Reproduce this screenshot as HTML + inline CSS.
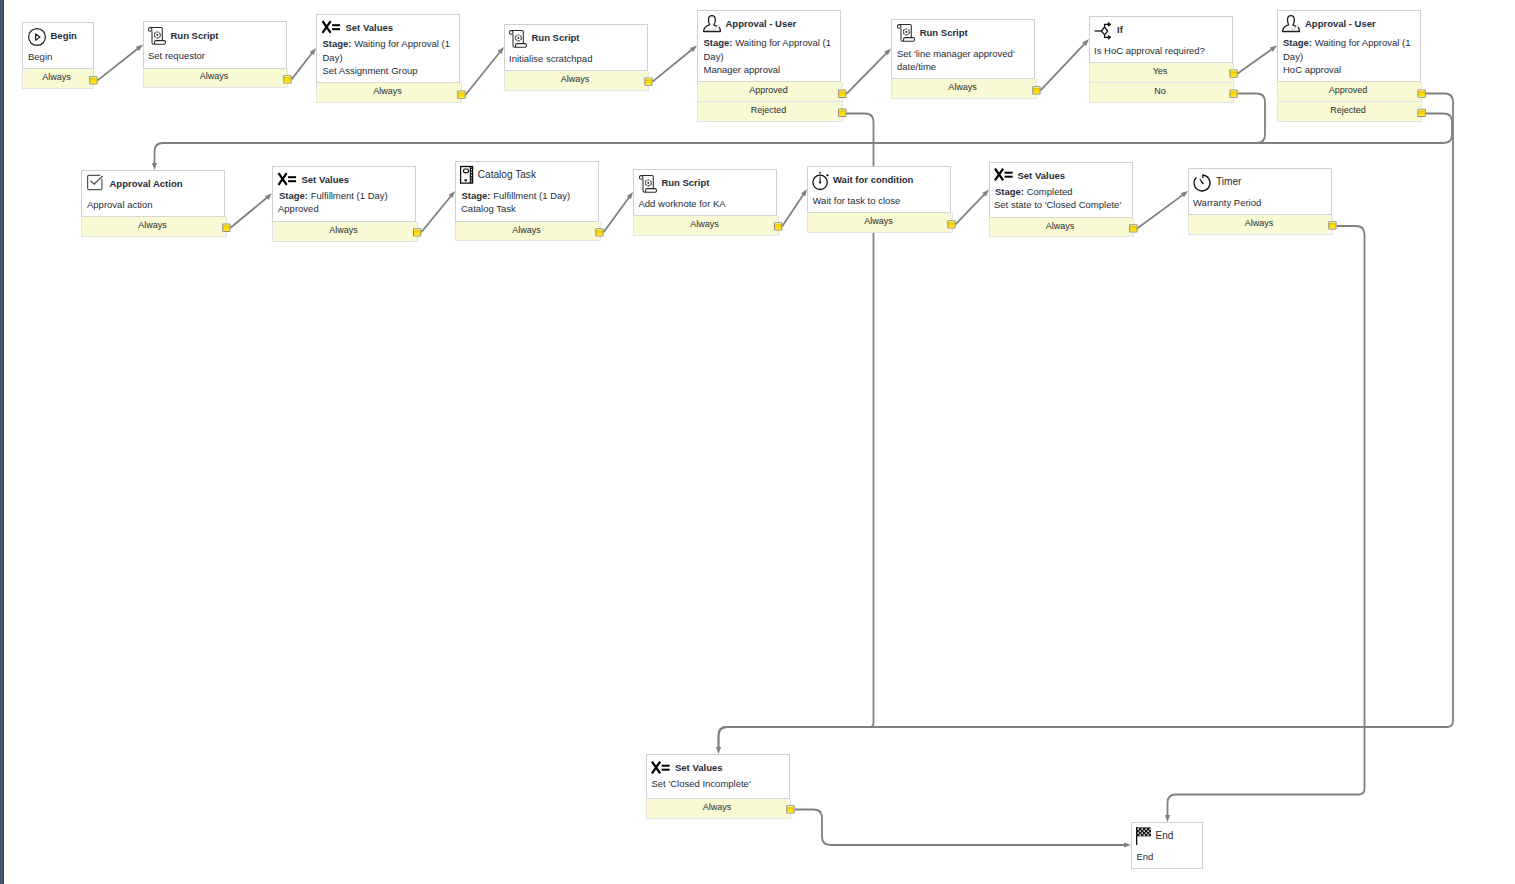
<!DOCTYPE html><html><head><meta charset="utf-8"><style>html,body{margin:0;padding:0;background:#fff;overflow:hidden}svg{display:block;position:absolute;left:0;top:0}text{font-family:"Liberation Sans",sans-serif}</style></head><body>
<svg width="1515" height="884" viewBox="0 0 1515 884">
<rect x="0" y="0" width="1515" height="884" fill="#fff"/>
<rect x="0" y="0" width="4" height="884" fill="#455369"/><rect x="3" y="0" width="1" height="884" fill="#37404f"/>
<path d="M97.6,80.4 L138.3,48.2" stroke="#808080" stroke-width="1.8" fill="none"/>
<path d="M143.0,44.5 L139.1,50.9 L135.9,46.8 Z" fill="#808080"/>
<path d="M291.6,79.4 L312.3,52.7" stroke="#808080" stroke-width="1.8" fill="none"/>
<path d="M316.0,48.0 L313.8,55.1 L309.6,51.9 Z" fill="#808080"/>
<path d="M465.6,94.7 L500.2,51.7" stroke="#808080" stroke-width="1.8" fill="none"/>
<path d="M504.0,47.0 L501.6,54.1 L497.6,50.8 Z" fill="#808080"/>
<path d="M652.6,81.6 L692.3,49.3" stroke="#808080" stroke-width="1.8" fill="none"/>
<path d="M697.0,45.5 L693.2,51.9 L689.9,47.9 Z" fill="#808080"/>
<path d="M846.4,93.8 L886.8,52.8" stroke="#808080" stroke-width="1.8" fill="none"/>
<path d="M891.0,48.5 L887.9,55.3 L884.2,51.7 Z" fill="#808080"/>
<path d="M1040.6,90.4 L1084.9,43.4" stroke="#808080" stroke-width="1.8" fill="none"/>
<path d="M1089.0,39.0 L1086.1,45.9 L1082.3,42.3 Z" fill="#808080"/>
<path d="M1237.7,73.6 L1272.1,49.0" stroke="#808080" stroke-width="1.8" fill="none"/>
<path d="M1277.0,45.5 L1272.8,51.7 L1269.8,47.5 Z" fill="#808080"/>
<path d="M230.5,227.8 L267.4,197.3" stroke="#808080" stroke-width="1.8" fill="none"/>
<path d="M272.0,193.5 L268.3,200.0 L264.9,196.0 Z" fill="#808080"/>
<path d="M421.3,232.3 L451.2,195.7" stroke="#808080" stroke-width="1.8" fill="none"/>
<path d="M455.0,191.0 L452.6,198.1 L448.6,194.8 Z" fill="#808080"/>
<path d="M603.6,232.3 L629.5,196.8" stroke="#808080" stroke-width="1.8" fill="none"/>
<path d="M633.0,192.0 L631.0,199.2 L626.8,196.1 Z" fill="#808080"/>
<path d="M782.3,226.3 L803.7,194.0" stroke="#808080" stroke-width="1.8" fill="none"/>
<path d="M807.0,189.0 L805.3,196.3 L801.0,193.4 Z" fill="#808080"/>
<path d="M955.6,224.3 L984.8,193.8" stroke="#808080" stroke-width="1.8" fill="none"/>
<path d="M989.0,189.5 L986.0,196.4 L982.3,192.8 Z" fill="#808080"/>
<path d="M1137.5,228.3 L1183.2,194.6" stroke="#808080" stroke-width="1.8" fill="none"/>
<path d="M1188.0,191.0 L1183.9,197.3 L1180.8,193.1 Z" fill="#808080"/>
<path d="M846,113.5 L865.0,113.5 Q873.5,113.5 873.5,122.0 L873.5,723.0 Q873.5,727 869.5,727.0 L727.0,727.0 Q718.5,727 718.5,735.5 L718.5,748" stroke="#808080" stroke-width="1.8" fill="none"/>
<path d="M718.5,754 L715.9,747 L721.1,747 Z" fill="#808080"/>
<path d="M1426,93.5 L1444.5,93.5 Q1453,93.5 1453.0,102.0 L1453.0,721.0 Q1453,727 1447.0,727.0 L727.0,727.0 Q718.5,727 718.5,735.5 L718.5,748" stroke="#808080" stroke-width="1.8" fill="none"/>
<path d="M1426,113.5 L1443.5,113.5 Q1452,113.5 1452.0,122.0 L1452.0,134.5 Q1452,143 1443.5,143.0 L163.0,143.0 Q154.5,143 154.5,151.5 L154.5,164" stroke="#808080" stroke-width="1.8" fill="none"/>
<path d="M154.5,170 L151.9,163 L157.1,163 Z" fill="#808080"/>
<path d="M1238,93.5 L1256.5,93.5 Q1265,93.5 1265.0,102.0 L1265.0,134.5 Q1265,143 1256.5,143.0 L1200,143" stroke="#808080" stroke-width="1.8" fill="none"/>
<path d="M1337,226 L1356.0,226.0 Q1364.5,226 1364.5,234.5 L1364.5,788.5 Q1364.5,794.5 1358.5,794.5 L1176.0,794.5 Q1167.5,794.5 1167.5,803.0 L1167.5,816" stroke="#808080" stroke-width="1.8" fill="none"/>
<path d="M1167.5,822 L1164.9,815 L1170.1,815 Z" fill="#808080"/>
<path d="M795,809.5 L813.5,809.5 Q822,809.5 822.0,818.0 L822.0,836.5 Q822,845 830.5,845.0 L1125,845" stroke="#808080" stroke-width="1.8" fill="none"/>
<path d="M1131,845 L1124,842.4 L1124,847.6 Z" fill="#808080"/>
<rect x="22" y="69" width="72" height="20" fill="#e1e4ea"/>
<rect x="23" y="69" width="70" height="19" fill="#f9f9d3"/>
<rect x="22" y="22" width="72" height="47" fill="#d0d0d0"/>
<rect x="23" y="23" width="70" height="45" fill="#fff"/>
<rect x="23" y="68" width="70" height="1" fill="#d6d6d6"/>
<g transform="translate(28,28)" fill="none" stroke="#222" stroke-width="1.25"><circle cx="9" cy="9" r="8.4"/><path d="M7.6,6 L7.6,12.2 L12,9.1 Z" stroke-linejoin="round"/></g>
<text x="50.5" y="39" font-size="9.5" font-weight="bold" fill="#262d38">Begin</text>
<text x="28" y="60" font-size="9.5" fill="#262d38">Begin</text>
<text x="56.5" y="79.5" font-size="9" text-anchor="middle" fill="#262d38">Always</text>
<rect x="143" y="69" width="145" height="19" fill="#e1e4ea"/>
<rect x="144" y="69" width="143" height="18" fill="#f9f9d3"/>
<rect x="143" y="21" width="144" height="48" fill="#d0d0d0"/>
<rect x="144" y="22" width="142" height="46" fill="#fff"/>
<rect x="144" y="68" width="142" height="1" fill="#d6d6d6"/>
<g transform="translate(145,24)" fill="none" stroke="#2a2a2a" stroke-width="1.05"><circle cx="5.2" cy="5.4" r="1.8"/><path d="M5.2,3.55 L16,3.55 Q17.3,3.55 17.3,4.85 L17.3,16.6"/><path d="M7,7.2 L7,18.8 Q7,20.3 8.5,20.3 L19.1,20.3 Q20.5,20.3 20.5,18.45 Q20.5,16.6 19.1,16.6 L10.8,16.6 Q9.6,16.6 9.6,17.9 L9.6,19 Q9.6,20.3 8.5,20.3"/><circle cx="12.35" cy="10.9" r="3" stroke-dasharray="2.4,0.75"/><circle cx="12.35" cy="10.9" r="0.95" fill="#1a1a1a" stroke="none"/></g>
<text x="170.5" y="39" font-size="9.5" font-weight="bold" fill="#262d38">Run Script</text>
<text x="148" y="59" font-size="9.5" fill="#262d38">Set requestor</text>
<text x="214.0" y="78.7" font-size="9" text-anchor="middle" fill="#262d38">Always</text>
<rect x="316" y="83" width="146" height="20" fill="#e1e4ea"/>
<rect x="317" y="83" width="144" height="19" fill="#f9f9d3"/>
<rect x="316" y="14" width="144" height="69" fill="#d0d0d0"/>
<rect x="317" y="15" width="142" height="67" fill="#fff"/>
<rect x="317" y="82" width="142" height="1" fill="#d6d6d6"/>
<g transform="translate(321,20)"><path d="M2.1,2.0 L9.0,11.9 M9.0,2.0 L2.1,11.9" stroke="#000" stroke-width="2.2" stroke-linecap="square" fill="none"/><rect x="11.1" y="4.2" width="8" height="2" fill="#000"/><rect x="11.1" y="8.2" width="8" height="2" fill="#000"/></g>
<text x="345.5" y="30.7" font-size="9.5" font-weight="bold" fill="#262d38">Set Values</text>
<text x="322.5" y="47" font-size="9.5" fill="#262d38"><tspan font-weight="bold">Stage:</tspan> Waiting for Approval (1</text>
<text x="322.5" y="61" font-size="9.5" fill="#262d38">Day)</text>
<text x="322.5" y="73.6" font-size="9.5" fill="#262d38">Set Assignment Group</text>
<text x="387.5" y="93.5" font-size="9" text-anchor="middle" fill="#262d38">Always</text>
<rect x="504" y="71" width="145" height="20" fill="#e1e4ea"/>
<rect x="505" y="71" width="143" height="19" fill="#f9f9d3"/>
<rect x="504" y="24" width="144" height="47" fill="#d0d0d0"/>
<rect x="505" y="25" width="142" height="45" fill="#fff"/>
<rect x="505" y="70" width="142" height="1" fill="#d6d6d6"/>
<g transform="translate(506,27)" fill="none" stroke="#2a2a2a" stroke-width="1.05"><circle cx="5.2" cy="5.4" r="1.8"/><path d="M5.2,3.55 L16,3.55 Q17.3,3.55 17.3,4.85 L17.3,16.6"/><path d="M7,7.2 L7,18.8 Q7,20.3 8.5,20.3 L19.1,20.3 Q20.5,20.3 20.5,18.45 Q20.5,16.6 19.1,16.6 L10.8,16.6 Q9.6,16.6 9.6,17.9 L9.6,19 Q9.6,20.3 8.5,20.3"/><circle cx="12.35" cy="10.9" r="3" stroke-dasharray="2.4,0.75"/><circle cx="12.35" cy="10.9" r="0.95" fill="#1a1a1a" stroke="none"/></g>
<text x="531.5" y="41.3" font-size="9.5" font-weight="bold" fill="#262d38">Run Script</text>
<text x="509" y="62" font-size="9.5" fill="#262d38">Initialise scratchpad</text>
<text x="575.0" y="81.5" font-size="9" text-anchor="middle" fill="#262d38">Always</text>
<rect x="697" y="82" width="146" height="40" fill="#e1e4ea"/>
<rect x="698" y="82" width="144" height="19" fill="#f9f9d3"/>
<rect x="698" y="102" width="144" height="19" fill="#f9f9d3"/>
<rect x="697" y="10" width="144" height="72" fill="#d0d0d0"/>
<rect x="698" y="11" width="142" height="70" fill="#fff"/>
<rect x="698" y="81" width="142" height="1" fill="#d6d6d6"/>
<g transform="translate(703,15)" fill="none" stroke="#1e1e1e" stroke-width="1.3" stroke-linejoin="round"><path d="M7,9.7 C5.9,8.6 5.5,7 5.5,5 C5.5,2.2 6.9,0.7 8.9,0.7 C10.9,0.7 12.3,2.2 12.3,5 C12.3,7 11.9,8.6 10.8,9.7 C11.6,10.4 12.8,10.8 13.9,11.3"/><path d="M16,11.8 C17,13 17.4,14.5 17.4,16.5 L0.6,16.5 C0.6,13 3,11 7,9.7"/><path d="M9,13.5 L11.5,15 L16,9.5" stroke="#bbb" stroke-width="0.8"/></g>
<text x="725.5" y="27.2" font-size="9.5" font-weight="bold" fill="#262d38">Approval - User</text>
<text x="703.5" y="46.3" font-size="9.5" fill="#262d38"><tspan font-weight="bold">Stage:</tspan> Waiting for Approval (1</text>
<text x="703.5" y="60.3" font-size="9.5" fill="#262d38">Day)</text>
<text x="703.5" y="72.8" font-size="9.5" fill="#262d38">Manager approval</text>
<text x="768.5" y="92.5" font-size="9" text-anchor="middle" fill="#262d38">Approved</text>
<text x="768.5" y="112.5" font-size="9" text-anchor="middle" fill="#262d38">Rejected</text>
<rect x="891" y="79" width="146" height="20" fill="#e1e4ea"/>
<rect x="892" y="79" width="144" height="19" fill="#f9f9d3"/>
<rect x="891" y="19" width="144" height="60" fill="#d0d0d0"/>
<rect x="892" y="20" width="142" height="58" fill="#fff"/>
<rect x="892" y="78" width="142" height="1" fill="#d6d6d6"/>
<g transform="translate(894,21)" fill="none" stroke="#2a2a2a" stroke-width="1.05"><circle cx="5.2" cy="5.4" r="1.8"/><path d="M5.2,3.55 L16,3.55 Q17.3,3.55 17.3,4.85 L17.3,16.6"/><path d="M7,7.2 L7,18.8 Q7,20.3 8.5,20.3 L19.1,20.3 Q20.5,20.3 20.5,18.45 Q20.5,16.6 19.1,16.6 L10.8,16.6 Q9.6,16.6 9.6,17.9 L9.6,19 Q9.6,20.3 8.5,20.3"/><circle cx="12.35" cy="10.9" r="3" stroke-dasharray="2.4,0.75"/><circle cx="12.35" cy="10.9" r="0.95" fill="#1a1a1a" stroke="none"/></g>
<text x="919.7" y="35.8" font-size="9.5" font-weight="bold" fill="#262d38">Run Script</text>
<text x="897" y="57" font-size="9.5" fill="#262d38">Set &#39;line manager approved&#39;</text>
<text x="897" y="70" font-size="9.5" fill="#262d38">date/time</text>
<text x="962.5" y="89.5" font-size="9" text-anchor="middle" fill="#262d38">Always</text>
<rect x="1089" y="63" width="145" height="40" fill="#e1e4ea"/>
<rect x="1090" y="63" width="143" height="19" fill="#f9f9d3"/>
<rect x="1090" y="83" width="143" height="19" fill="#f9f9d3"/>
<rect x="1089" y="16" width="144" height="47" fill="#d0d0d0"/>
<rect x="1090" y="17" width="142" height="45" fill="#fff"/>
<rect x="1090" y="62" width="142" height="1" fill="#d6d6d6"/>
<g transform="translate(1090,18)" fill="none" stroke="#111" stroke-width="1.3" stroke-linejoin="miter"><path d="M4.6,13 L11.4,13"/><path d="M11.4,13 L14.6,9.1 L17.6,13 L14.6,16.8 Z"/><path d="M14.6,9.1 L14.6,6.4 L19.5,6.4 M14.6,16.8 L14.6,19.3 L19.5,19.3"/><path d="M18.2,4.5 L21,6.4 L18.2,8.3 Z M18.2,17.4 L21,19.3 L18.2,21.2 Z" fill="#111" stroke-width="0.8"/></g>
<text x="1117" y="33" font-size="9.5" font-weight="bold" fill="#262d38">If</text>
<text x="1094" y="53.5" font-size="9.5" fill="#262d38">Is HoC approval required?</text>
<text x="1160.0" y="73.5" font-size="9" text-anchor="middle" fill="#262d38">Yes</text>
<text x="1160.0" y="93.5" font-size="9" text-anchor="middle" fill="#262d38">No</text>
<rect x="1277" y="82" width="145" height="40" fill="#e1e4ea"/>
<rect x="1278" y="82" width="143" height="19" fill="#f9f9d3"/>
<rect x="1278" y="102" width="143" height="19" fill="#f9f9d3"/>
<rect x="1277" y="10" width="144" height="72" fill="#d0d0d0"/>
<rect x="1278" y="11" width="142" height="70" fill="#fff"/>
<rect x="1278" y="81" width="142" height="1" fill="#d6d6d6"/>
<g transform="translate(1282,15)" fill="none" stroke="#1e1e1e" stroke-width="1.3" stroke-linejoin="round"><path d="M7,9.7 C5.9,8.6 5.5,7 5.5,5 C5.5,2.2 6.9,0.7 8.9,0.7 C10.9,0.7 12.3,2.2 12.3,5 C12.3,7 11.9,8.6 10.8,9.7 C11.6,10.4 12.8,10.8 13.9,11.3"/><path d="M16,11.8 C17,13 17.4,14.5 17.4,16.5 L0.6,16.5 C0.6,13 3,11 7,9.7"/><path d="M9,13.5 L11.5,15 L16,9.5" stroke="#bbb" stroke-width="0.8"/></g>
<text x="1305" y="27.2" font-size="9.5" font-weight="bold" fill="#262d38">Approval - User</text>
<text x="1283" y="46.3" font-size="9.5" fill="#262d38"><tspan font-weight="bold">Stage:</tspan> Waiting for Approval (1</text>
<text x="1283" y="60.3" font-size="9.5" fill="#262d38">Day)</text>
<text x="1283" y="72.8" font-size="9.5" fill="#262d38">HoC approval</text>
<text x="1348.0" y="92.5" font-size="9" text-anchor="middle" fill="#262d38">Approved</text>
<text x="1348.0" y="112.5" font-size="9" text-anchor="middle" fill="#262d38">Rejected</text>
<rect x="81" y="217" width="146" height="20" fill="#e1e4ea"/>
<rect x="82" y="217" width="144" height="19" fill="#f9f9d3"/>
<rect x="81" y="170" width="144" height="47" fill="#d0d0d0"/>
<rect x="82" y="171" width="142" height="45" fill="#fff"/>
<rect x="82" y="216" width="142" height="1" fill="#d6d6d6"/>
<g transform="translate(83,172)" fill="none" stroke="#555" stroke-width="1.2"><path d="M17.3,3.4 L5.7,3.4 Q4.6,3.4 4.6,4.5 L4.6,16.5 Q4.6,17.6 5.7,17.6 L17.8,17.6 Q18.9,17.6 18.9,16.5 L18.9,7"/><path d="M7.5,8.8 L11.1,12.1 L19.8,4.1" stroke-width="1.3"/></g>
<text x="109.5" y="186.8" font-size="9.5" font-weight="bold" fill="#262d38">Approval Action</text>
<text x="87" y="208" font-size="9.5" fill="#262d38">Approval action</text>
<text x="152.5" y="227.5" font-size="9" text-anchor="middle" fill="#262d38">Always</text>
<rect x="272" y="222" width="146" height="20" fill="#e1e4ea"/>
<rect x="273" y="222" width="144" height="19" fill="#f9f9d3"/>
<rect x="272" y="166" width="144" height="56" fill="#d0d0d0"/>
<rect x="273" y="167" width="142" height="54" fill="#fff"/>
<rect x="273" y="221" width="142" height="1" fill="#d6d6d6"/>
<g transform="translate(277,172)"><path d="M2.1,2.0 L9.0,11.9 M9.0,2.0 L2.1,11.9" stroke="#000" stroke-width="2.2" stroke-linecap="square" fill="none"/><rect x="11.1" y="4.2" width="8" height="2" fill="#000"/><rect x="11.1" y="8.2" width="8" height="2" fill="#000"/></g>
<text x="301.5" y="182.6" font-size="9.5" font-weight="bold" fill="#262d38">Set Values</text>
<text x="279" y="198.8" font-size="9.5" fill="#262d38"><tspan font-weight="bold">Stage:</tspan> Fulfillment (1 Day)</text>
<text x="278" y="212.2" font-size="9.5" fill="#262d38">Approved</text>
<text x="343.5" y="232.5" font-size="9" text-anchor="middle" fill="#262d38">Always</text>
<rect x="455" y="222" width="146" height="19" fill="#e1e4ea"/>
<rect x="456" y="222" width="144" height="18" fill="#f9f9d3"/>
<rect x="455" y="161" width="144" height="61" fill="#d0d0d0"/>
<rect x="456" y="162" width="142" height="59" fill="#fff"/>
<rect x="456" y="221" width="142" height="1" fill="#d6d6d6"/>
<g transform="translate(457,163)" fill="none" stroke="#111" stroke-width="1.3"><rect x="3.6" y="3.5" width="12" height="16.6"/><path d="M13.4,3.5 L13.4,20.1"/><path d="M14.6,4.5 L14.6,19.5" stroke-dasharray="1.6,1.2" stroke-width="1"/><rect x="6.6" y="6" width="4.8" height="3.6" rx="1" stroke-width="1.2"/><circle cx="8.7" cy="17.3" r="1.3" fill="#222" stroke="none"/></g>
<text x="477.8" y="177.7" font-size="10.1" fill="#262d38">Catalog Task</text>
<text x="461.5" y="198.8" font-size="9.5" fill="#262d38"><tspan font-weight="bold">Stage:</tspan> Fulfillment (1 Day)</text>
<text x="461" y="212.3" font-size="9.5" fill="#262d38">Catalog Task</text>
<text x="526.5" y="232.5" font-size="9" text-anchor="middle" fill="#262d38">Always</text>
<rect x="633" y="216" width="146" height="20" fill="#e1e4ea"/>
<rect x="634" y="216" width="144" height="19" fill="#f9f9d3"/>
<rect x="633" y="169" width="144" height="47" fill="#d0d0d0"/>
<rect x="634" y="170" width="142" height="45" fill="#fff"/>
<rect x="634" y="215" width="142" height="1" fill="#d6d6d6"/>
<g transform="translate(636,172)" fill="none" stroke="#2a2a2a" stroke-width="1.05"><circle cx="5.2" cy="5.4" r="1.8"/><path d="M5.2,3.55 L16,3.55 Q17.3,3.55 17.3,4.85 L17.3,16.6"/><path d="M7,7.2 L7,18.8 Q7,20.3 8.5,20.3 L19.1,20.3 Q20.5,20.3 20.5,18.45 Q20.5,16.6 19.1,16.6 L10.8,16.6 Q9.6,16.6 9.6,17.9 L9.6,19 Q9.6,20.3 8.5,20.3"/><circle cx="12.35" cy="10.9" r="3" stroke-dasharray="2.4,0.75"/><circle cx="12.35" cy="10.9" r="0.95" fill="#1a1a1a" stroke="none"/></g>
<text x="661.4" y="185.9" font-size="9.5" font-weight="bold" fill="#262d38">Run Script</text>
<text x="638.5" y="207" font-size="9.5" fill="#262d38">Add worknote for KA</text>
<text x="704.5" y="226.5" font-size="9" text-anchor="middle" fill="#262d38">Always</text>
<rect x="807" y="213" width="146" height="20" fill="#e1e4ea"/>
<rect x="808" y="213" width="144" height="19" fill="#f9f9d3"/>
<rect x="807" y="166" width="144" height="47" fill="#d0d0d0"/>
<rect x="808" y="167" width="142" height="45" fill="#fff"/>
<rect x="808" y="212" width="142" height="1" fill="#d6d6d6"/>
<g transform="translate(809,168)" fill="none" stroke="#111" stroke-width="1.3"><circle cx="11.1" cy="14.3" r="7.2"/><rect x="10.3" y="3.9" width="1.6" height="1.7" fill="#222" stroke="none"/><path d="M11.1,8.6 L11.1,14.3" stroke-width="1.05"/><circle cx="11.1" cy="14.6" r="1.15" fill="#111" stroke="none"/><path d="M17.6,6.7 L19.4,7.9" stroke-width="1.7"/></g>
<text x="833" y="182.9" font-size="9.5" font-weight="bold" fill="#262d38">Wait for condition</text>
<text x="812.5" y="204" font-size="9.5" fill="#262d38">Wait for task to close</text>
<text x="878.5" y="223.5" font-size="9" text-anchor="middle" fill="#262d38">Always</text>
<rect x="989" y="218" width="145" height="19" fill="#e1e4ea"/>
<rect x="990" y="218" width="143" height="18" fill="#f9f9d3"/>
<rect x="989" y="162" width="144" height="56" fill="#d0d0d0"/>
<rect x="990" y="163" width="142" height="54" fill="#fff"/>
<rect x="990" y="217" width="142" height="1" fill="#d6d6d6"/>
<g transform="translate(993.5,167.5)"><path d="M2.1,2.0 L9.0,11.9 M9.0,2.0 L2.1,11.9" stroke="#000" stroke-width="2.2" stroke-linecap="square" fill="none"/><rect x="11.1" y="4.2" width="8" height="2" fill="#000"/><rect x="11.1" y="8.2" width="8" height="2" fill="#000"/></g>
<text x="1017.5" y="178.8" font-size="9.5" font-weight="bold" fill="#262d38">Set Values</text>
<text x="995" y="194.9" font-size="9.5" fill="#262d38"><tspan font-weight="bold">Stage:</tspan> Completed</text>
<text x="994" y="207.7" font-size="9.5" fill="#262d38">Set state to &#39;Closed Complete&#39;</text>
<text x="1060.0" y="228.5" font-size="9" text-anchor="middle" fill="#262d38">Always</text>
<rect x="1188" y="215" width="145" height="20" fill="#e1e4ea"/>
<rect x="1189" y="215" width="143" height="19" fill="#f9f9d3"/>
<rect x="1188" y="168" width="144" height="47" fill="#d0d0d0"/>
<rect x="1189" y="169" width="142" height="45" fill="#fff"/>
<rect x="1189" y="214" width="142" height="1" fill="#d6d6d6"/>
<g transform="translate(1190.4,170.2)" fill="none" stroke="#111" stroke-width="1.3"><path d="M12.4,7.7 L12.4,4.8 A8,8 0 1 1 5.9,7.2"/><path d="M9,8.9 L9.7,8.6 L13.5,13.3 L12.1,14.3 Z" fill="#111" stroke="none"/></g>
<text x="1216" y="185" font-size="10.1" fill="#262d38">Timer</text>
<text x="1193" y="206" font-size="9.5" fill="#262d38">Warranty Period</text>
<text x="1259.0" y="225.5" font-size="9" text-anchor="middle" fill="#262d38">Always</text>
<rect x="646" y="799" width="145" height="20" fill="#e1e4ea"/>
<rect x="647" y="799" width="143" height="19" fill="#f9f9d3"/>
<rect x="646" y="754" width="144" height="45" fill="#d0d0d0"/>
<rect x="647" y="755" width="142" height="43" fill="#fff"/>
<rect x="647" y="798" width="142" height="1" fill="#d6d6d6"/>
<g transform="translate(650.5,760.5)"><path d="M2.1,2.0 L9.0,11.9 M9.0,2.0 L2.1,11.9" stroke="#000" stroke-width="2.2" stroke-linecap="square" fill="none"/><rect x="11.1" y="4.2" width="8" height="2" fill="#000"/><rect x="11.1" y="8.2" width="8" height="2" fill="#000"/></g>
<text x="675" y="771.1" font-size="9.5" font-weight="bold" fill="#262d38">Set Values</text>
<text x="651.5" y="786.9" font-size="9.5" fill="#262d38">Set &#39;Closed Incomplete&#39;</text>
<text x="717.0" y="809.5" font-size="9" text-anchor="middle" fill="#262d38">Always</text>
<rect x="1131" y="822" width="72" height="47" fill="#d0d0d0"/>
<rect x="1132" y="823" width="70" height="45" fill="#fff"/>
<rect x="1132" y="868" width="70" height="1" fill="#d6d6d6"/>
<g transform="translate(1133,824)"><rect x="3" y="3" width="1.3" height="18" fill="#111"/><rect x="3.5" y="3.4" width="14.5" height="9" fill="#1a1a1a"/><rect x="4.4" y="4.3" width="1.6" height="1.6" fill="#d8d8d8"/><rect x="4.4" y="8.3" width="1.6" height="1.6" fill="#d8d8d8"/><rect x="6.4" y="6.3" width="1.6" height="1.6" fill="#d8d8d8"/><rect x="6.4" y="10.3" width="1.6" height="1.6" fill="#d8d8d8"/><rect x="8.4" y="4.3" width="1.6" height="1.6" fill="#d8d8d8"/><rect x="8.4" y="8.3" width="1.6" height="1.6" fill="#d8d8d8"/><rect x="10.4" y="6.3" width="1.6" height="1.6" fill="#d8d8d8"/><rect x="10.4" y="10.3" width="1.6" height="1.6" fill="#d8d8d8"/><rect x="12.4" y="4.3" width="1.6" height="1.6" fill="#d8d8d8"/><rect x="12.4" y="8.3" width="1.6" height="1.6" fill="#d8d8d8"/><rect x="14.4" y="6.3" width="1.6" height="1.6" fill="#d8d8d8"/><rect x="14.4" y="10.3" width="1.6" height="1.6" fill="#d8d8d8"/><rect x="16.4" y="4.3" width="1.6" height="1.6" fill="#d8d8d8"/><rect x="16.4" y="8.3" width="1.6" height="1.6" fill="#d8d8d8"/></g>
<text x="1155.5" y="839" font-size="10.1" fill="#262d38">End</text>
<text x="1136.5" y="860" font-size="9.5" fill="#262d38">End</text>
<rect x="89.3" y="76.2" width="8.3" height="8.3" rx="1" fill="#8c8a7c"/><rect x="90.3" y="77.2" width="6.3" height="6.3" fill="#ffdc00"/><rect x="90.3" y="77.2" width="6.3" height="1" fill="#fff3a0"/><rect x="90.8" y="78.2" width="5.3" height="1.2" fill="#e6c300"/><rect x="90.3" y="82.5" width="6.3" height="1" fill="#fff04a"/>
<rect x="283.3" y="75.2" width="8.3" height="8.3" rx="1" fill="#8c8a7c"/><rect x="284.3" y="76.2" width="6.3" height="6.3" fill="#ffdc00"/><rect x="284.3" y="76.2" width="6.3" height="1" fill="#fff3a0"/><rect x="284.8" y="77.2" width="5.3" height="1.2" fill="#e6c300"/><rect x="284.3" y="81.5" width="6.3" height="1" fill="#fff04a"/>
<rect x="457.3" y="90.5" width="8.3" height="8.3" rx="1" fill="#8c8a7c"/><rect x="458.3" y="91.5" width="6.3" height="6.3" fill="#ffdc00"/><rect x="458.3" y="91.5" width="6.3" height="1" fill="#fff3a0"/><rect x="458.8" y="92.5" width="5.3" height="1.2" fill="#e6c300"/><rect x="458.3" y="96.8" width="6.3" height="1" fill="#fff04a"/>
<rect x="644.3" y="77.4" width="8.3" height="8.3" rx="1" fill="#8c8a7c"/><rect x="645.3" y="78.4" width="6.3" height="6.3" fill="#ffdc00"/><rect x="645.3" y="78.4" width="6.3" height="1" fill="#fff3a0"/><rect x="645.8" y="79.4" width="5.3" height="1.2" fill="#e6c300"/><rect x="645.3" y="83.7" width="6.3" height="1" fill="#fff04a"/>
<rect x="838.1" y="89.6" width="8.3" height="8.3" rx="1" fill="#8c8a7c"/><rect x="839.1" y="90.6" width="6.3" height="6.3" fill="#ffdc00"/><rect x="839.1" y="90.6" width="6.3" height="1" fill="#fff3a0"/><rect x="839.6" y="91.6" width="5.3" height="1.2" fill="#e6c300"/><rect x="839.1" y="95.89999999999999" width="6.3" height="1" fill="#fff04a"/>
<rect x="838.1" y="108.6" width="8.3" height="8.3" rx="1" fill="#8c8a7c"/><rect x="839.1" y="109.6" width="6.3" height="6.3" fill="#ffdc00"/><rect x="839.1" y="109.6" width="6.3" height="1" fill="#fff3a0"/><rect x="839.6" y="110.6" width="5.3" height="1.2" fill="#e6c300"/><rect x="839.1" y="114.89999999999999" width="6.3" height="1" fill="#fff04a"/>
<rect x="1032.3" y="86.2" width="8.3" height="8.3" rx="1" fill="#8c8a7c"/><rect x="1033.3" y="87.2" width="6.3" height="6.3" fill="#ffdc00"/><rect x="1033.3" y="87.2" width="6.3" height="1" fill="#fff3a0"/><rect x="1033.8" y="88.2" width="5.3" height="1.2" fill="#e6c300"/><rect x="1033.3" y="92.5" width="6.3" height="1" fill="#fff04a"/>
<rect x="1229.4" y="69.4" width="8.3" height="8.3" rx="1" fill="#8c8a7c"/><rect x="1230.4" y="70.4" width="6.3" height="6.3" fill="#ffdc00"/><rect x="1230.4" y="70.4" width="6.3" height="1" fill="#fff3a0"/><rect x="1230.9" y="71.4" width="5.3" height="1.2" fill="#e6c300"/><rect x="1230.4" y="75.7" width="6.3" height="1" fill="#fff04a"/>
<rect x="1229.4" y="89.5" width="8.3" height="8.3" rx="1" fill="#8c8a7c"/><rect x="1230.4" y="90.5" width="6.3" height="6.3" fill="#ffdc00"/><rect x="1230.4" y="90.5" width="6.3" height="1" fill="#fff3a0"/><rect x="1230.9" y="91.5" width="5.3" height="1.2" fill="#e6c300"/><rect x="1230.4" y="95.8" width="6.3" height="1" fill="#fff04a"/>
<rect x="1417.5" y="89.4" width="8.3" height="8.3" rx="1" fill="#8c8a7c"/><rect x="1418.5" y="90.4" width="6.3" height="6.3" fill="#ffdc00"/><rect x="1418.5" y="90.4" width="6.3" height="1" fill="#fff3a0"/><rect x="1419.0" y="91.4" width="5.3" height="1.2" fill="#e6c300"/><rect x="1418.5" y="95.7" width="6.3" height="1" fill="#fff04a"/>
<rect x="1417.5" y="108.7" width="8.3" height="8.3" rx="1" fill="#8c8a7c"/><rect x="1418.5" y="109.7" width="6.3" height="6.3" fill="#ffdc00"/><rect x="1418.5" y="109.7" width="6.3" height="1" fill="#fff3a0"/><rect x="1419.0" y="110.7" width="5.3" height="1.2" fill="#e6c300"/><rect x="1418.5" y="115.0" width="6.3" height="1" fill="#fff04a"/>
<rect x="222.2" y="223.6" width="8.3" height="8.3" rx="1" fill="#8c8a7c"/><rect x="223.2" y="224.6" width="6.3" height="6.3" fill="#ffdc00"/><rect x="223.2" y="224.6" width="6.3" height="1" fill="#fff3a0"/><rect x="223.7" y="225.6" width="5.3" height="1.2" fill="#e6c300"/><rect x="223.2" y="229.9" width="6.3" height="1" fill="#fff04a"/>
<rect x="413" y="228.2" width="8.3" height="8.3" rx="1" fill="#8c8a7c"/><rect x="414" y="229.2" width="6.3" height="6.3" fill="#ffdc00"/><rect x="414" y="229.2" width="6.3" height="1" fill="#fff3a0"/><rect x="414.5" y="230.2" width="5.3" height="1.2" fill="#e6c300"/><rect x="414" y="234.5" width="6.3" height="1" fill="#fff04a"/>
<rect x="595.3" y="228.2" width="8.3" height="8.3" rx="1" fill="#8c8a7c"/><rect x="596.3" y="229.2" width="6.3" height="6.3" fill="#ffdc00"/><rect x="596.3" y="229.2" width="6.3" height="1" fill="#fff3a0"/><rect x="596.8" y="230.2" width="5.3" height="1.2" fill="#e6c300"/><rect x="596.3" y="234.5" width="6.3" height="1" fill="#fff04a"/>
<rect x="774" y="222.2" width="8.3" height="8.3" rx="1" fill="#8c8a7c"/><rect x="775" y="223.2" width="6.3" height="6.3" fill="#ffdc00"/><rect x="775" y="223.2" width="6.3" height="1" fill="#fff3a0"/><rect x="775.5" y="224.2" width="5.3" height="1.2" fill="#e6c300"/><rect x="775" y="228.5" width="6.3" height="1" fill="#fff04a"/>
<rect x="947.3" y="220.2" width="8.3" height="8.3" rx="1" fill="#8c8a7c"/><rect x="948.3" y="221.2" width="6.3" height="6.3" fill="#ffdc00"/><rect x="948.3" y="221.2" width="6.3" height="1" fill="#fff3a0"/><rect x="948.8" y="222.2" width="5.3" height="1.2" fill="#e6c300"/><rect x="948.3" y="226.5" width="6.3" height="1" fill="#fff04a"/>
<rect x="1129.2" y="224.2" width="8.3" height="8.3" rx="1" fill="#8c8a7c"/><rect x="1130.2" y="225.2" width="6.3" height="6.3" fill="#ffdc00"/><rect x="1130.2" y="225.2" width="6.3" height="1" fill="#fff3a0"/><rect x="1130.7" y="226.2" width="5.3" height="1.2" fill="#e6c300"/><rect x="1130.2" y="230.5" width="6.3" height="1" fill="#fff04a"/>
<rect x="1328.3" y="221.2" width="8.3" height="8.3" rx="1" fill="#8c8a7c"/><rect x="1329.3" y="222.2" width="6.3" height="6.3" fill="#ffdc00"/><rect x="1329.3" y="222.2" width="6.3" height="1" fill="#fff3a0"/><rect x="1329.8" y="223.2" width="5.3" height="1.2" fill="#e6c300"/><rect x="1329.3" y="227.5" width="6.3" height="1" fill="#fff04a"/>
<rect x="786.3" y="805.2" width="8.3" height="8.3" rx="1" fill="#8c8a7c"/><rect x="787.3" y="806.2" width="6.3" height="6.3" fill="#ffdc00"/><rect x="787.3" y="806.2" width="6.3" height="1" fill="#fff3a0"/><rect x="787.8" y="807.2" width="5.3" height="1.2" fill="#e6c300"/><rect x="787.3" y="811.5" width="6.3" height="1" fill="#fff04a"/>
</svg></body></html>
